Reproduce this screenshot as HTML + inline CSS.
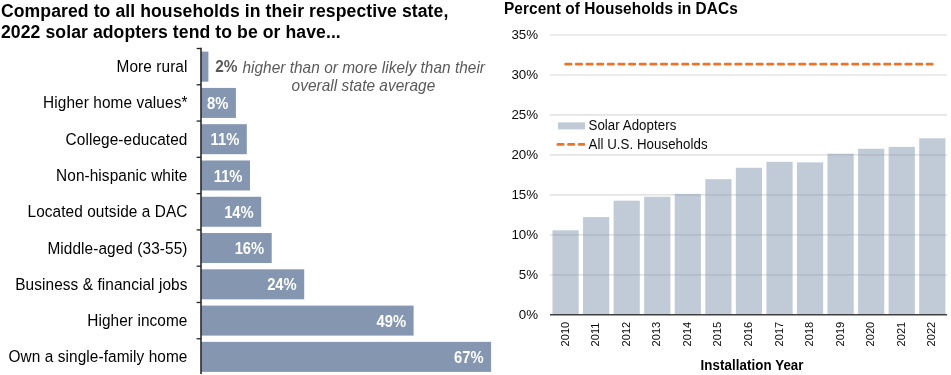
<!DOCTYPE html>
<html><head><meta charset="utf-8"><style>
html,body{margin:0;padding:0;background:#fff;width:951px;height:375px;overflow:hidden}
svg{display:block;will-change:transform}
text{font-family:"Liberation Sans", sans-serif}
</style></head><body>
<svg width="951" height="375" viewBox="0 0 951 375">

<text transform="translate(1.00,17.30) scale(1.0,1.0)" font-size="17.6" fill="#000" font-weight="bold" letter-spacing="0.085">Compared to all households in their respective state,</text>
<text transform="translate(1.00,37.60) scale(1.0,1.0)" font-size="17.6" fill="#000" font-weight="bold" letter-spacing="0.085">2022 solar adopters tend to be or have...</text>
<g fill="#8496B0">
<rect x="201.0" y="51.64" width="7.40" height="30.0"/>
<rect x="201.0" y="87.92" width="34.90" height="30.0"/>
<rect x="201.0" y="124.20" width="45.80" height="30.0"/>
<rect x="201.0" y="160.48" width="49.00" height="30.0"/>
<rect x="201.0" y="196.76" width="60.20" height="30.0"/>
<rect x="201.0" y="233.04" width="70.70" height="30.0"/>
<rect x="201.0" y="269.32" width="103.20" height="30.0"/>
<rect x="201.0" y="305.60" width="212.60" height="30.0"/>
<rect x="201.0" y="341.88" width="290.10" height="30.0"/>
</g>
<line x1="201.0" y1="47.7" x2="201.0" y2="374" stroke="#2a2a2a" stroke-width="1.6"/>
<line x1="196.6" y1="48.50" x2="201.0" y2="48.50" stroke="#262626" stroke-width="1.3"/>
<line x1="196.6" y1="84.78" x2="201.0" y2="84.78" stroke="#262626" stroke-width="1.3"/>
<line x1="196.6" y1="121.06" x2="201.0" y2="121.06" stroke="#262626" stroke-width="1.3"/>
<line x1="196.6" y1="157.34" x2="201.0" y2="157.34" stroke="#262626" stroke-width="1.3"/>
<line x1="196.6" y1="193.62" x2="201.0" y2="193.62" stroke="#262626" stroke-width="1.3"/>
<line x1="196.6" y1="229.90" x2="201.0" y2="229.90" stroke="#262626" stroke-width="1.3"/>
<line x1="196.6" y1="266.18" x2="201.0" y2="266.18" stroke="#262626" stroke-width="1.3"/>
<line x1="196.6" y1="302.46" x2="201.0" y2="302.46" stroke="#262626" stroke-width="1.3"/>
<line x1="196.6" y1="338.74" x2="201.0" y2="338.74" stroke="#262626" stroke-width="1.3"/>
<text transform="translate(187.50,72.14) scale(1.0,1.08)" font-size="15.4" fill="#000" text-anchor="end" letter-spacing="0.08">More rural</text>
<text transform="translate(187.50,108.42) scale(1.0,1.08)" font-size="15.4" fill="#000" text-anchor="end" letter-spacing="0.08">Higher home values*</text>
<text transform="translate(187.50,144.70) scale(1.0,1.08)" font-size="15.4" fill="#000" text-anchor="end" letter-spacing="0.08">College-educated</text>
<text transform="translate(187.50,180.98) scale(1.0,1.08)" font-size="15.4" fill="#000" text-anchor="end" letter-spacing="0.08">Non-hispanic white</text>
<text transform="translate(187.50,217.26) scale(1.0,1.08)" font-size="15.4" fill="#000" text-anchor="end" letter-spacing="0.08">Located outside a DAC</text>
<text transform="translate(187.50,253.54) scale(1.0,1.08)" font-size="15.4" fill="#000" text-anchor="end" letter-spacing="0.08">Middle-aged (33-55)</text>
<text transform="translate(187.50,289.82) scale(1.0,1.08)" font-size="15.4" fill="#000" text-anchor="end" letter-spacing="0.08">Business &amp; financial jobs</text>
<text transform="translate(187.50,326.10) scale(1.0,1.08)" font-size="15.4" fill="#000" text-anchor="end" letter-spacing="0.08">Higher income</text>
<text transform="translate(187.50,362.38) scale(1.0,1.08)" font-size="15.4" fill="#000" text-anchor="end" letter-spacing="0.08">Own a single-family home</text>
<text transform="translate(215.20,72.10) scale(1.0,1.12)" font-size="15.4" fill="#595959" font-weight="bold">2%</text>
<text transform="translate(228.40,109.02) scale(0.96,1.13)" font-size="15.4" fill="#fff" font-weight="bold" text-anchor="end">8%</text>
<text transform="translate(239.30,145.30) scale(0.96,1.13)" font-size="15.4" fill="#fff" font-weight="bold" text-anchor="end">11%</text>
<text transform="translate(242.50,181.58) scale(0.96,1.13)" font-size="15.4" fill="#fff" font-weight="bold" text-anchor="end">11%</text>
<text transform="translate(253.70,217.86) scale(0.96,1.13)" font-size="15.4" fill="#fff" font-weight="bold" text-anchor="end">14%</text>
<text transform="translate(264.20,254.14) scale(0.96,1.13)" font-size="15.4" fill="#fff" font-weight="bold" text-anchor="end">16%</text>
<text transform="translate(296.70,290.42) scale(0.96,1.13)" font-size="15.4" fill="#fff" font-weight="bold" text-anchor="end">24%</text>
<text transform="translate(406.10,326.70) scale(0.96,1.13)" font-size="15.4" fill="#fff" font-weight="bold" text-anchor="end">49%</text>
<text transform="translate(483.60,362.98) scale(0.96,1.13)" font-size="15.4" fill="#fff" font-weight="bold" text-anchor="end">67%</text>
<text transform="translate(363.70,72.60) scale(1.0,1.1)" font-size="15.4" fill="#595959" font-style="italic" text-anchor="middle" letter-spacing="0.04">higher than or more likely than their</text>
<text transform="translate(363.40,90.60) scale(1.0,1.1)" font-size="15.4" fill="#595959" font-style="italic" text-anchor="middle" letter-spacing="0.04">overall state average</text>
<text transform="translate(504.00,13.90) scale(1.0,1.064)" font-size="15.4" fill="#000" font-weight="bold" letter-spacing="0.07">Percent of Households in DACs</text>
<line x1="550" y1="274.83" x2="947" y2="274.83" stroke="#dadada" stroke-width="1.2"/>
<line x1="550" y1="234.86" x2="947" y2="234.86" stroke="#dadada" stroke-width="1.2"/>
<line x1="550" y1="194.89" x2="947" y2="194.89" stroke="#dadada" stroke-width="1.2"/>
<line x1="550" y1="154.92" x2="947" y2="154.92" stroke="#dadada" stroke-width="1.2"/>
<line x1="550" y1="114.95" x2="947" y2="114.95" stroke="#dadada" stroke-width="1.2"/>
<line x1="550" y1="74.98" x2="947" y2="74.98" stroke="#dadada" stroke-width="1.2"/>
<line x1="550" y1="35.01" x2="947" y2="35.01" stroke="#dadada" stroke-width="1.2"/>
<text transform="translate(538.00,319.10) scale(1.0,1.0)" font-size="13.3" fill="#0a0a0a" text-anchor="end">0%</text>
<text transform="translate(538.00,279.13) scale(1.0,1.0)" font-size="13.3" fill="#0a0a0a" text-anchor="end">5%</text>
<text transform="translate(538.00,239.16) scale(1.0,1.0)" font-size="13.3" fill="#0a0a0a" text-anchor="end">10%</text>
<text transform="translate(538.00,199.19) scale(1.0,1.0)" font-size="13.3" fill="#0a0a0a" text-anchor="end">15%</text>
<text transform="translate(538.00,159.22) scale(1.0,1.0)" font-size="13.3" fill="#0a0a0a" text-anchor="end">20%</text>
<text transform="translate(538.00,119.25) scale(1.0,1.0)" font-size="13.3" fill="#0a0a0a" text-anchor="end">25%</text>
<text transform="translate(538.00,79.28) scale(1.0,1.0)" font-size="13.3" fill="#0a0a0a" text-anchor="end">30%</text>
<text transform="translate(538.00,39.31) scale(1.0,1.0)" font-size="13.3" fill="#0a0a0a" text-anchor="end">35%</text>
<g fill="#8496B0" fill-opacity="0.5">
<rect x="552.48" y="230.30" width="26.2" height="84.50"/>
<rect x="583.04" y="217.10" width="26.2" height="97.70"/>
<rect x="613.60" y="200.70" width="26.2" height="114.10"/>
<rect x="644.16" y="196.80" width="26.2" height="118.00"/>
<rect x="674.72" y="193.90" width="26.2" height="120.90"/>
<rect x="705.28" y="179.20" width="26.2" height="135.60"/>
<rect x="735.84" y="167.80" width="26.2" height="147.00"/>
<rect x="766.40" y="161.90" width="26.2" height="152.90"/>
<rect x="796.96" y="162.40" width="26.2" height="152.40"/>
<rect x="827.52" y="153.70" width="26.2" height="161.10"/>
<rect x="858.08" y="148.80" width="26.2" height="166.00"/>
<rect x="888.64" y="146.90" width="26.2" height="167.90"/>
<rect x="919.20" y="138.30" width="26.2" height="176.50"/>
</g>
<line x1="550" y1="314.8" x2="947" y2="314.8" stroke="#404040" stroke-width="1.6"/>
<text transform="translate(568.68,346.4) rotate(-90)" font-size="11.1" fill="#0a0a0a">2010</text>
<text transform="translate(599.24,346.4) rotate(-90)" font-size="11.1" fill="#0a0a0a">2011</text>
<text transform="translate(629.80,346.4) rotate(-90)" font-size="11.1" fill="#0a0a0a">2012</text>
<text transform="translate(660.36,346.4) rotate(-90)" font-size="11.1" fill="#0a0a0a">2013</text>
<text transform="translate(690.92,346.4) rotate(-90)" font-size="11.1" fill="#0a0a0a">2014</text>
<text transform="translate(721.48,346.4) rotate(-90)" font-size="11.1" fill="#0a0a0a">2015</text>
<text transform="translate(752.04,346.4) rotate(-90)" font-size="11.1" fill="#0a0a0a">2016</text>
<text transform="translate(782.60,346.4) rotate(-90)" font-size="11.1" fill="#0a0a0a">2017</text>
<text transform="translate(813.16,346.4) rotate(-90)" font-size="11.1" fill="#0a0a0a">2018</text>
<text transform="translate(843.72,346.4) rotate(-90)" font-size="11.1" fill="#0a0a0a">2019</text>
<text transform="translate(874.28,346.4) rotate(-90)" font-size="11.1" fill="#0a0a0a">2020</text>
<text transform="translate(904.84,346.4) rotate(-90)" font-size="11.1" fill="#0a0a0a">2021</text>
<text transform="translate(935.40,346.4) rotate(-90)" font-size="11.1" fill="#0a0a0a">2022</text>
<text transform="translate(700.50,369.70) scale(1.0,1.09)" font-size="13.3" fill="#000" font-weight="bold" letter-spacing="0.08">Installation Year</text>
<line x1="565.58" y1="64.15" x2="932.30" y2="64.15" stroke="#EA7528" stroke-width="2.7" stroke-dasharray="5.5 5.13" stroke-linecap="round"/>
<rect x="558" y="122.4" width="27" height="7" fill="#8496B0" fill-opacity="0.5"/>
<text transform="translate(588.50,129.90) scale(1.0,1.06)" font-size="13.3" fill="#0a0a0a" letter-spacing="0.05">Solar Adopters</text>
<line x1="557.8" y1="144.4" x2="584" y2="144.4" stroke="#EA7528" stroke-width="2.7" stroke-dasharray="5.5 5.13" stroke-linecap="round"/>
<text transform="translate(588.50,148.60) scale(1.0,1.06)" font-size="13.3" fill="#0a0a0a" letter-spacing="0.05">All U.S. Households</text>
</svg></body></html>
